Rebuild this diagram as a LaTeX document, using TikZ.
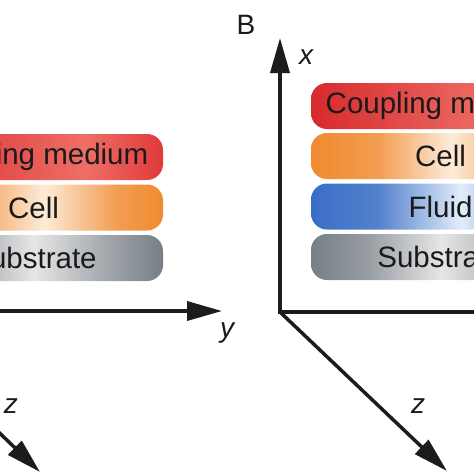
\documentclass[tikz,border=0pt]{standalone}
\usepackage{fontspec}
\setmainfont{Liberation Sans}
\usetikzlibrary{arrows.meta}
\definecolor{redE}{HTML}{D62A2E}
\definecolor{redH}{HTML}{EE6E66}
\definecolor{redR}{HTML}{E03A3A}
\definecolor{orE}{HTML}{F08A30}
\definecolor{orH}{HTML}{FDEBD8}
\definecolor{blE}{HTML}{3A6EC6}
\definecolor{blH}{HTML}{E2EDFA}
\definecolor{grE}{HTML}{767E86}
\definecolor{grH}{HTML}{E6E6E6}
\definecolor{textc}{HTML}{1A1A1A}
\definecolor{axisc}{HTML}{1C1C1C}
\pgfdeclarehorizontalshading{redsh}{100bp}{color(0bp)=(redE); color(25bp)=(redE); color(60bp)=(redH); color(75bp)=(redR); color(100bp)=(redR)}
\pgfdeclarehorizontalshading{orsh}{100bp}{color(0bp)=(orE); color(25bp)=(orE); color(38bp)=(orE!80!orH); color(52bp)=(orH); color(66bp)=(orE!80!orH); color(75bp)=(orE); color(100bp)=(orE)}
\pgfdeclarehorizontalshading{blsh}{100bp}{color(0bp)=(blE); color(25bp)=(blE); color(38bp)=(blE!85!blH); color(54bp)=(blH); color(68bp)=(blE!80!blH); color(75bp)=(blE); color(100bp)=(blE)}
\pgfdeclarehorizontalshading{grsh}{100bp}{color(0bp)=(grE); color(25bp)=(grE); color(36bp)=(grE!70!grH); color(50bp)=(grH); color(64bp)=(grE!60!grH); color(75bp)=(grE); color(100bp)=(grE)}
\begin{document}
\begin{tikzpicture}[x=1pt,y=-1pt,
  bar/.style={rounded corners=16pt, minimum width=259pt, minimum height=46pt,
    inner sep=0pt, text=textc, font=\fontsize{29.5}{29.5}\selectfont},
  axis/.style={line width=3.5pt, draw=axisc, line join=miter},
  tipped/.style={-{Triangle[length=35pt,width=19pt]}},
  lab/.style={text=textc, font=\fontsize{28}{28}\selectfont\itshape, inner sep=0pt}]
\useasboundingbox (0,0) rectangle (474,474);
\clip (0,0) rectangle (474,474);
% left panel
\node[bar, shading=redsh] (lred) at (33.5,157) {Coupling medium};
\node[bar, shading=orsh] (lcell) at (33.5,207.5) {Cell};
\node[bar, shading=grsh] (lsub) at (33.5,258) {Substrate};
\coordinate (lo) at (-127,311);
\coordinate (lytip) at (222,311);
\coordinate (lztip) at (40,472);
\draw[axis, tipped] (lo) -- (lytip);
\draw[axis, tipped] (lo) -- (lztip);
\node[lab] (ly) at (227,333) {y};
\node[lab] (lz) at (11,406) {z};
% right panel
\node[text=textc, font=\fontsize{28}{28}\selectfont, inner sep=0pt] (B) at (246,25) {B};
\node[bar, shading=redsh] (rred) at (440.5,106) {Coupling medium};
\node[bar, shading=orsh] (rcell) at (440.5,156) {Cell};
\node[bar, shading=blsh] (rfluid) at (440.5,206.5) {Fluid};
\node[bar, shading=grsh] (rsub) at (440.5,257) {Substrate};
\coordinate (ro) at (280,312);
\coordinate (rxtip) at (280,38);
\coordinate (ryend) at (500,312);
\coordinate (rztip) at (447,471);
\draw[axis, {Triangle[length=35pt,width=19pt]}-] (rxtip) -- (ro) -- (ryend);
\draw[axis, tipped] (ro) -- (rztip);
\node[lab] (rx) at (306,57) {x};
\node[lab] (rz) at (418,406) {z};
\end{tikzpicture}
\end{document}
